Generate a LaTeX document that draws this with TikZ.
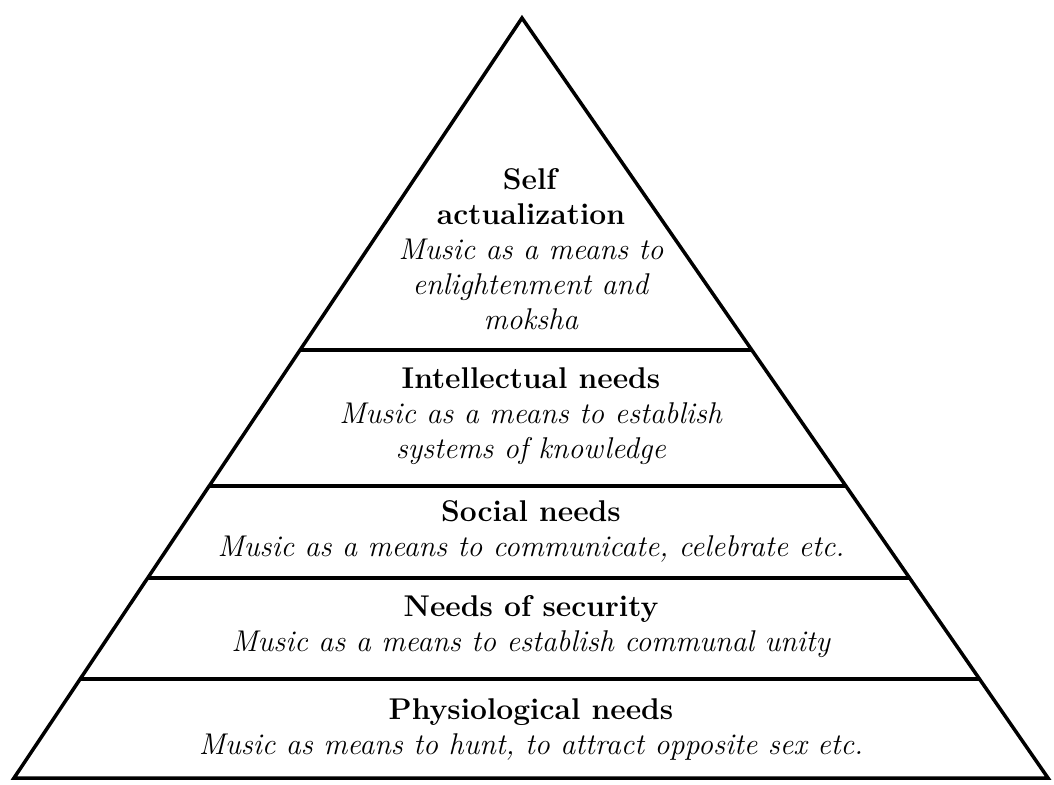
\documentclass[tikz,border=0pt]{standalone}
\usetikzlibrary{calc}
\begin{document}
\begin{tikzpicture}[x=1pt,y=-1pt,
  lbl/.style={align=center,font=\fontsize{30}{35}\selectfont,inner sep=0pt},
  edge/.style={line width=3.5pt,line join=miter}]
\useasboundingbox (0,0) rectangle (1054,784);
\coordinate (A) at (522,18);
\coordinate (BL) at (14,778);
\coordinate (BR) at (1048,778);
\draw[edge] (A) -- (BL) -- (BR) -- cycle;
\foreach \y in {350,486,578,679}{
  \pgfmathsetmacro{\f}{(\y-18)/760}
  \draw[edge] ($(A)!\f!(BL)$) -- ($(A)!\f!(BR)$);
}
\node[lbl] (t1) at (531,249) {\textbf{Self}\\\textbf{actualization}\\\textit{Music as a means to}\\\textit{enlightenment and}\\\textit{moksha}};
\node[lbl] (t2) at (531,416) {\textbf{Intellectual needs}\\\textit{Music as a means to establish}\\\textit{systems of knowledge}};
\node[lbl] (t3) at (531,531) {\textbf{Social needs}\\\textit{Music as a means to communicate, celebrate etc.}};
\node[lbl] (t4) at (531,627) {\textbf{Needs of security}\\\textit{Music as a means to establish communal unity}};
\node[lbl] (t5) at (531,729) {\textbf{Physiological needs}\\\textit{Music as means to hunt, to attract opposite sex etc.}};
\end{tikzpicture}
\end{document}
